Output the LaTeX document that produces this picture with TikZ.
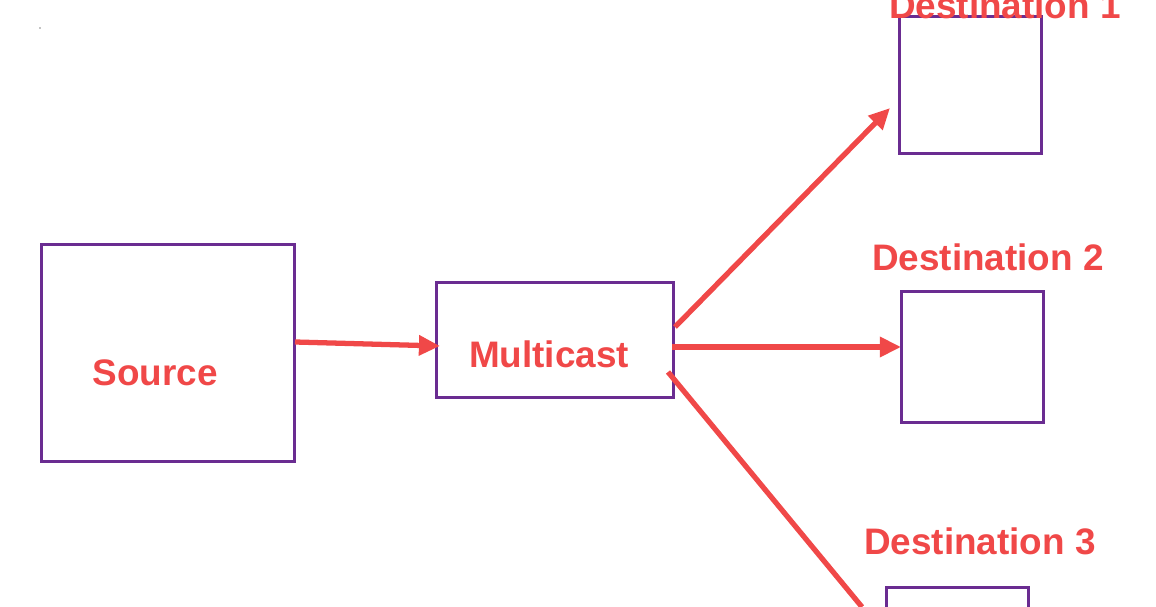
\documentclass[tikz,border=0pt]{standalone}
\usepackage{fontspec}
\setmainfont{Liberation Sans}
\usetikzlibrary{arrows.meta}
\definecolor{boxc}{HTML}{6A2C91}
\definecolor{redc}{HTML}{F04848}
\begin{document}
\begin{tikzpicture}[x=0.02cm,y=-0.02cm,
  box/.style={draw=boxc,line width=1.6pt,inner sep=0,anchor=north west},
  lbl/.style={text=redc,font=\bfseries\fontsize{21}{24}\selectfont},
  arr/.style={draw=redc,line width=3pt,-{Triangle[length=12pt,width=11pt]}}]
\useasboundingbox (0,0) rectangle (1156,607);
\node[box,minimum width=253*0.02cm,minimum height=217*0.02cm] (src) at (40,243) {};
\node[box,minimum width=237*0.02cm,minimum height=115*0.02cm] (mc) at (435,281) {};
\node[box,minimum width=142*0.02cm,minimum height=137*0.02cm] (d1) at (898,15) {};
\node[box,minimum width=142*0.02cm,minimum height=131*0.02cm] (d2) at (900,290) {};
\node[box,minimum width=142*0.02cm,minimum height=60*0.02cm] (d3) at (885,586) {};
\node[lbl] (tsrc) at (155,373) {Source};
\node[lbl] (tmc) at (549,354) {Multicast};
\node[lbl] (t1) at (1005,5) {Destination 1};
\node[lbl] (t2) at (988,257) {Destination 2};
\node[lbl] (t3) at (980,541) {Destination 3};
\coordinate (a0) at (295,342); \coordinate (a1) at (440,346);
\coordinate (b0) at (675,327); \coordinate (b1) at (890,108);
\coordinate (c0) at (672,347); \coordinate (c1) at (901,347);
\coordinate (e0) at (668,372); \coordinate (e1) at (862,607);
\draw[arr] (a0) -- (a1);
\draw[arr] (b0) -- (b1);
\draw[arr] (c0) -- (c1);
\draw[draw=redc,line width=3pt] (e0) -- (e1);
\fill (40,28) circle (0.6);
\end{tikzpicture}
\end{document}
